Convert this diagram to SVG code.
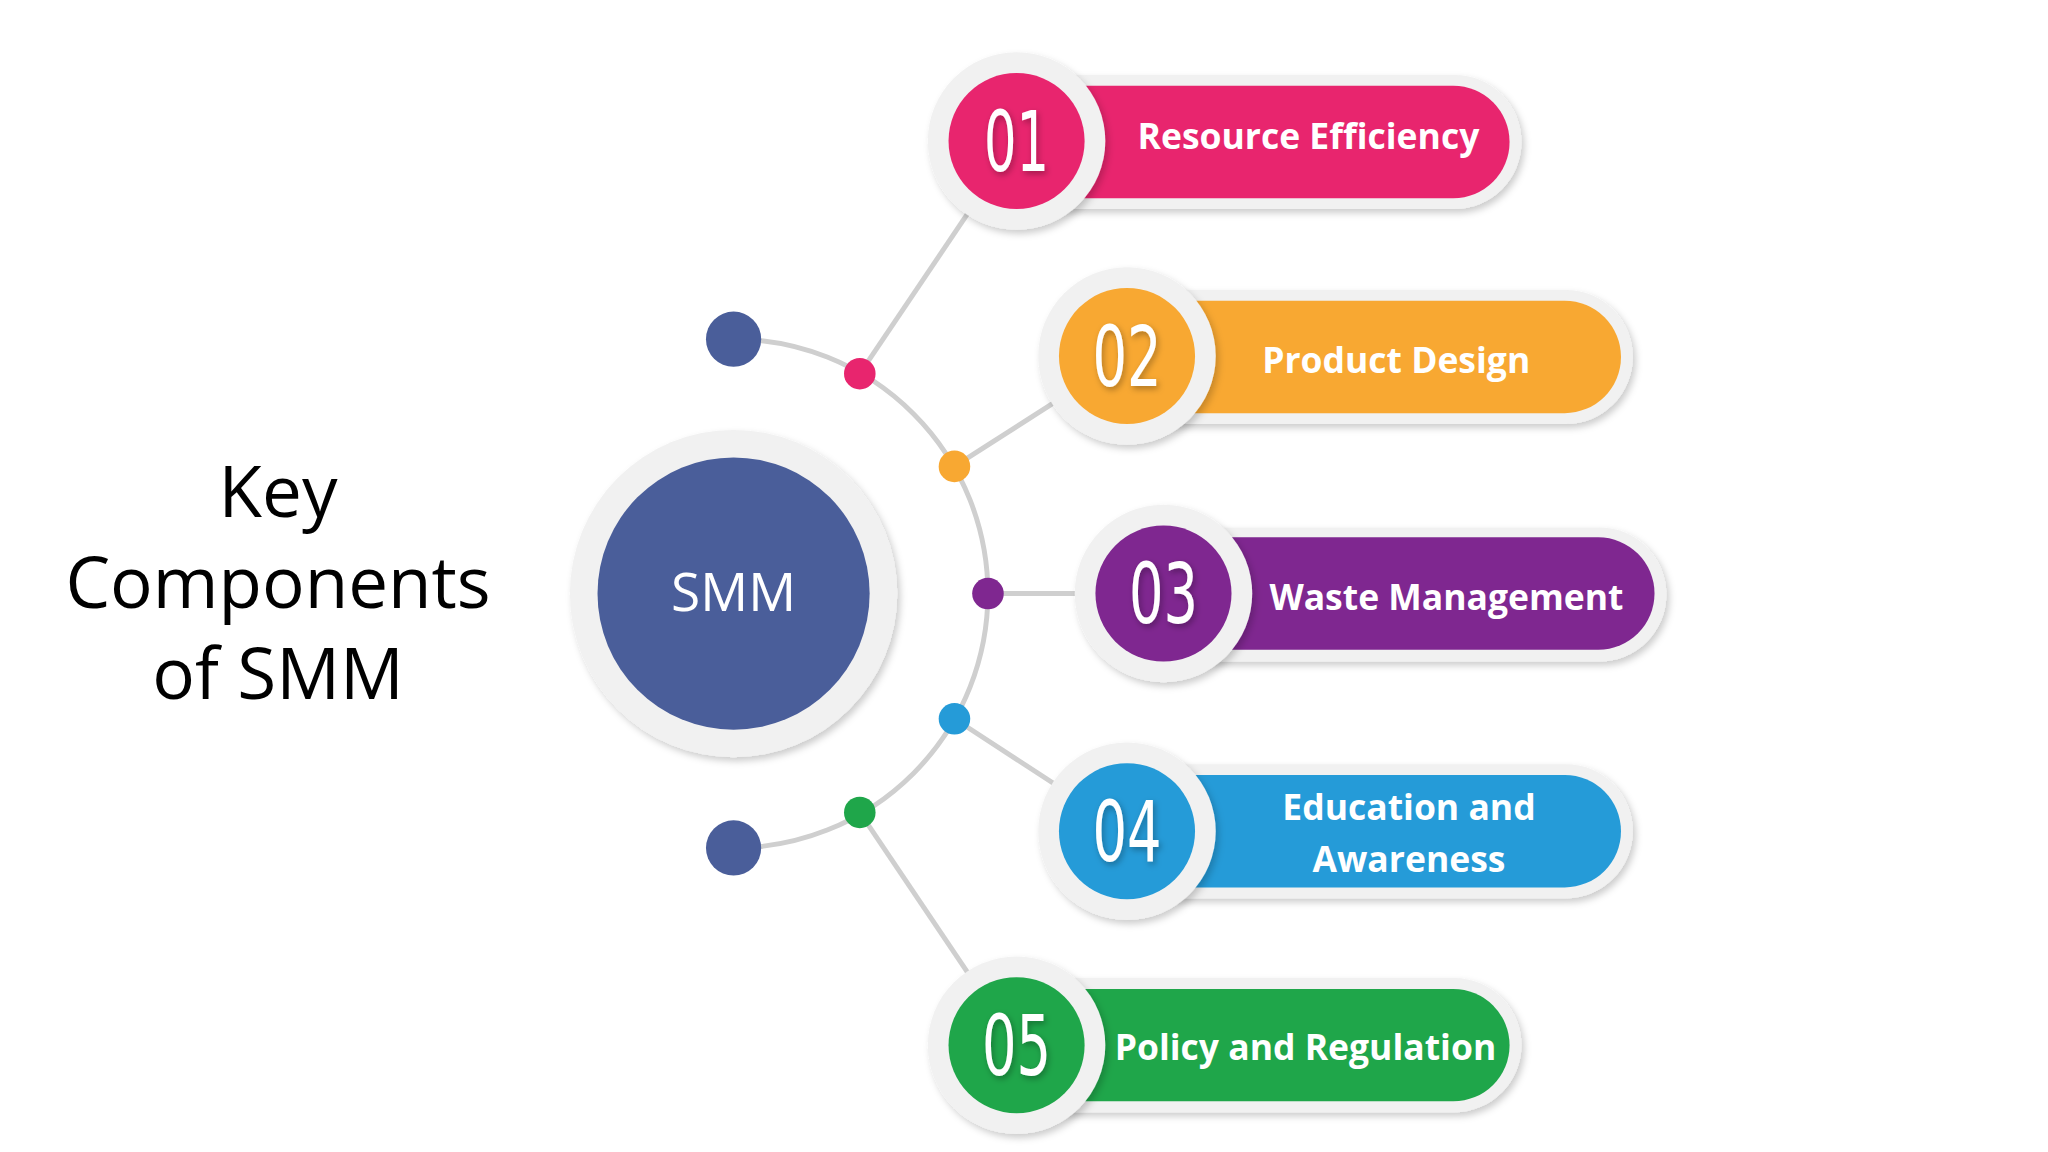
<svg xmlns="http://www.w3.org/2000/svg" width="2048" height="1152" viewBox="0 0 2048 1152">
<defs>
<style>
.halo{fill:#f1f1f1}
.lbl{font-family:"Open Sans","Liberation Sans",sans-serif;font-weight:bold;font-size:36px;fill:#fff;text-anchor:middle}
.num{font-family:"DejaVu Sans","Liberation Sans",sans-serif;font-size:84px;fill:#fff;text-anchor:middle;filter:url(#sh)}
.con{stroke:#cfcfcf;stroke-width:5;fill:none}
.title{font-family:"Open Sans","Liberation Sans",sans-serif;font-size:72px;fill:#000;text-anchor:middle}
</style>
<filter id="sh" x="-30%" y="-30%" width="160%" height="160%"><feDropShadow dx="2" dy="3" stdDeviation="3" flood-color="#000" flood-opacity="0.3"/></filter>
<filter id="ds" x="-20%" y="-30%" width="140%" height="160%"><feDropShadow dx="3" dy="4" stdDeviation="4" flood-color="#000" flood-opacity="0.2"/></filter>
</defs>
<rect width="2048" height="1152" fill="#fff"/>
<g transform="scale(0.986)">
<g id="title"><text class="title" x="282" y="524">Key</text><text class="title" x="282" y="617">Components</text><text class="title" x="282" y="709">of SMM</text></g>
<g id="connectors">
<path class="con" d="M744 344 A258 258 0 0 1 744 860"/>
<line class="con" x1="872" y1="379" x2="1031" y2="143"/>
<line class="con" x1="968" y1="473" x2="1143" y2="361"/>
<line class="con" x1="1002" y1="602" x2="1180" y2="602"/>
<line class="con" x1="968" y1="729" x2="1143" y2="843"/>
<line class="con" x1="872" y1="824" x2="1031" y2="1060"/>
<circle cx="744" cy="344" r="28" fill="#4a5e9a"/><circle cx="744" cy="860" r="28" fill="#4a5e9a"/>
<circle cx="872" cy="379" r="16" fill="#e8256e"/><circle cx="968" cy="473" r="16" fill="#f8a832"/><circle cx="1002" cy="602" r="16" fill="#7f2790"/><circle cx="968" cy="729" r="16" fill="#259bd8"/><circle cx="872" cy="824" r="16" fill="#1fa64a"/>
</g>
<g id="smm"><circle cx="744" cy="602" r="166" class="halo" filter="url(#ds)"/><circle cx="744" cy="602" r="138" fill="#4a5e9a"/><text x="744" y="620" font-family="Open Sans,Liberation Sans,sans-serif" font-size="54" fill="#fff" text-anchor="middle">SMM</text></g>
<g id="n1"><rect x="1000" y="76" width="543" height="136" rx="68" class="halo" filter="url(#ds)"/><rect x="1031" y="87" width="500" height="114" rx="57" fill="#e8256e"/><circle cx="1031" cy="143" r="90" class="halo" filter="url(#ds)"/><circle cx="1031" cy="143" r="69" fill="#e8256e"/><text class="num" x="1031" y="173" textLength="66" lengthAdjust="spacingAndGlyphs">01</text><text class="lbl" x="1327" y="151">Resource Efficiency</text></g>
<g id="n2"><rect x="1112" y="294" width="544" height="136" rx="68" class="halo" filter="url(#ds)"/><rect x="1143" y="305" width="501" height="114" rx="57" fill="#f8a832"/><circle cx="1143" cy="361" r="90" class="halo" filter="url(#ds)"/><circle cx="1143" cy="361" r="69" fill="#f8a832"/><text class="num" x="1143" y="391" textLength="70" lengthAdjust="spacingAndGlyphs">02</text><text class="lbl" x="1416" y="378">Product Design</text></g>
<g id="n3"><rect x="1149" y="535" width="541" height="136" rx="68" class="halo" filter="url(#ds)"/><rect x="1180" y="545" width="498" height="114" rx="57" fill="#7f2790"/><circle cx="1180" cy="602" r="90" class="halo" filter="url(#ds)"/><circle cx="1180" cy="602" r="69" fill="#7f2790"/><text class="num" x="1180" y="632" textLength="70" lengthAdjust="spacingAndGlyphs">03</text><text class="lbl" x="1467" y="619">Waste Management</text></g>
<g id="n4"><rect x="1112" y="775" width="544" height="136" rx="68" class="halo" filter="url(#ds)"/><rect x="1143" y="786" width="501" height="114" rx="57" fill="#259bd8"/><circle cx="1143" cy="843" r="90" class="halo" filter="url(#ds)"/><circle cx="1143" cy="843" r="69" fill="#259bd8"/><text class="num" x="1143" y="873" textLength="70" lengthAdjust="spacingAndGlyphs">04</text><text class="lbl" x="1429" y="832">Education and</text><text class="lbl" x="1429" y="884">Awareness</text></g>
<g id="n5"><rect x="1000" y="992" width="543" height="136" rx="68" class="halo" filter="url(#ds)"/><rect x="1031" y="1003" width="500" height="114" rx="57" fill="#1fa64a"/><circle cx="1031" cy="1060" r="90" class="halo" filter="url(#ds)"/><circle cx="1031" cy="1060" r="69" fill="#1fa64a"/><text class="num" x="1031" y="1090" textLength="70" lengthAdjust="spacingAndGlyphs">05</text><text class="lbl" x="1324" y="1075">Policy and Regulation</text></g>
</g>
</svg>
